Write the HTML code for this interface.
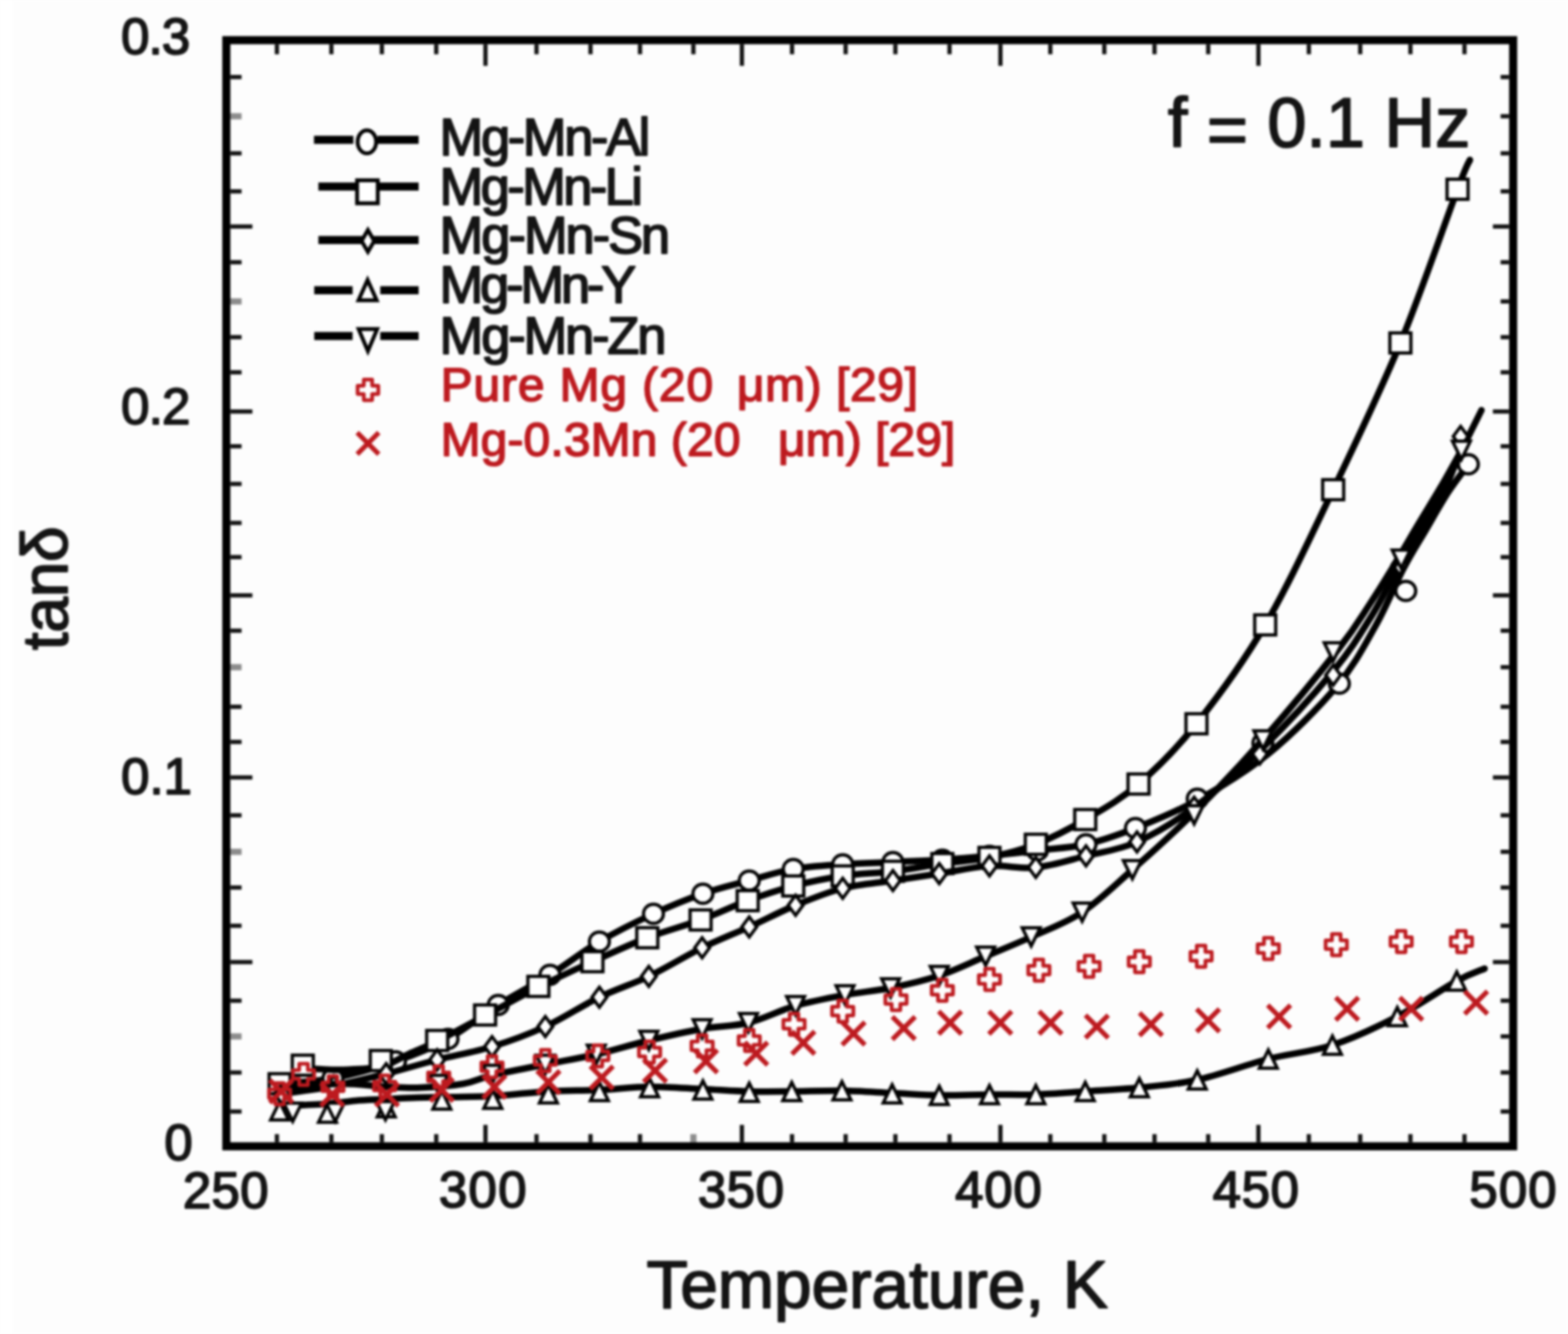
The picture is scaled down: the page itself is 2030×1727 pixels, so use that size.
<!DOCTYPE html>
<html><head><meta charset="utf-8"><title>tan&#948; vs temperature</title>
<style>
html,body{margin:0;padding:0;background:#fdfdfd;}
body{width:2030px;height:1727px;overflow:hidden;}
svg{display:block;font-family:"Liberation Sans",Arial,Helvetica,sans-serif;}
text{stroke:#141414;stroke-width:2.2px;stroke-linejoin:round;}
.red text{stroke:#bd1a1f;stroke-width:2px;}
.ln{fill:none;stroke:#000;stroke-width:8.5;stroke-linecap:round;stroke-linejoin:round;}
.lg{fill:none;stroke:#000;stroke-width:10.5;stroke-linecap:butt;}
.mk{fill:#fff;stroke:#000;stroke-width:4.2;stroke-linejoin:miter;}
.lm{stroke-width:5px;}
.rc{fill:none;stroke:#bd1a1f;stroke-width:4.8;stroke-linejoin:round;}
.rx{fill:none;stroke:#bd1a1f;stroke-width:6.2;stroke-linecap:butt;}
</style></head>
<body>
<svg xmlns="http://www.w3.org/2000/svg" width="2030" height="1727" viewBox="0 0 2030 1727">
<defs><filter id="soft" color-interpolation-filters="sRGB" filterUnits="userSpaceOnUse" x="0" y="0" width="2030" height="1727"><feGaussianBlur stdDeviation="1.6"/></filter></defs>
<g filter="url(#soft)">
<rect x="0" y="0" width="2030" height="1727" fill="#fdfdfd"/>
<rect x="0" y="0" width="17" height="1727" fill="#ffffff"/>
<path class="ln" d="M362,1403C373.5,1401.83 406,1400.83 431,1396C456,1391.17 487.17,1382.5 512,1374C536.83,1365.5 557.83,1357.17 580,1345C602.17,1332.83 623,1314.83 645,1301C667,1287.17 690.17,1275.67 712,1262C733.83,1248.33 753.67,1232.17 776,1219C798.33,1205.83 823.67,1193.33 846,1183C868.33,1172.67 889.33,1164.17 910,1157C930.67,1149.83 950.5,1145.33 970,1140C989.5,1134.67 1006.83,1128.5 1027,1125C1047.17,1121.5 1069.5,1120.5 1091,1119C1112.5,1117.5 1134.5,1117 1156,1116C1177.5,1115 1199.17,1114.33 1220,1113C1240.83,1111.67 1260.5,1110 1281,1108C1301.5,1106 1322.17,1103.5 1343,1101C1363.83,1098.5 1384.83,1097.83 1406,1093C1427.17,1088.17 1446,1081.5 1470,1072C1494,1062.5 1521.33,1052 1550,1036C1578.67,1020 1611.83,1000.67 1642,976C1672.17,951.33 1707.83,915.67 1731,888C1754.17,860.33 1766.67,835.33 1781,810C1795.33,784.67 1806.17,756.67 1817,736C1827.83,715.33 1836.33,702.5 1846,686C1855.67,669.5 1865.67,651.33 1875,637C1884.33,622.67 1897.5,606.17 1902,600"/>
<g class="mk"><ellipse cx="362" cy="1403" rx="12.9" ry="12.4"/><ellipse cx="431" cy="1396" rx="12.9" ry="12.4"/><ellipse cx="512" cy="1374" rx="12.9" ry="12.4"/><ellipse cx="580" cy="1345" rx="12.9" ry="12.4"/><ellipse cx="645" cy="1301" rx="12.9" ry="12.4"/><ellipse cx="712" cy="1262" rx="12.9" ry="12.4"/><ellipse cx="776" cy="1219" rx="12.9" ry="12.4"/><ellipse cx="846" cy="1183" rx="12.9" ry="12.4"/><ellipse cx="910" cy="1157" rx="12.9" ry="12.4"/><ellipse cx="970" cy="1140" rx="12.9" ry="12.4"/><ellipse cx="1027" cy="1125" rx="12.9" ry="12.4"/><ellipse cx="1091" cy="1119" rx="12.9" ry="12.4"/><ellipse cx="1156" cy="1116" rx="12.9" ry="12.4"/><ellipse cx="1220" cy="1113" rx="12.9" ry="12.4"/><ellipse cx="1281" cy="1108" rx="12.9" ry="12.4"/><ellipse cx="1343" cy="1101" rx="12.9" ry="12.4"/><ellipse cx="1406" cy="1093" rx="12.9" ry="12.4"/><ellipse cx="1470" cy="1072" rx="12.9" ry="12.4"/><ellipse cx="1550" cy="1034" rx="12.9" ry="12.4"/><ellipse cx="1635" cy="962" rx="12.9" ry="12.4"/><ellipse cx="1734" cy="885" rx="12.9" ry="12.4"/><ellipse cx="1820" cy="765" rx="12.9" ry="12.4"/><ellipse cx="1901" cy="601" rx="12.9" ry="12.4"/></g>
<path class="ln" d="M362,1404C367,1400.83 379,1388.17 392,1385C405,1381.83 423.17,1385.67 440,1385C456.83,1384.33 478,1384.5 493,1381C508,1377.5 517.83,1369.5 530,1364C542.17,1358.5 549.67,1356.17 566,1348C582.33,1339.83 606.17,1326.67 628,1315C649.83,1303.33 673.83,1289.67 697,1278C720.17,1266.33 743.5,1255.67 767,1245C790.5,1234.33 814.67,1223 838,1214C861.33,1205 885.33,1199 907,1191C928.67,1183 948,1173.33 968,1166C988,1158.67 1006.5,1152.33 1027,1147C1047.5,1141.67 1069.5,1137.17 1091,1134C1112.5,1130.83 1134.5,1130.67 1156,1128C1177.5,1125.33 1199.17,1121 1220,1118C1240.83,1115 1260.83,1114.17 1281,1110C1301.17,1105.83 1320.33,1101.17 1341,1093C1361.67,1084.83 1382.83,1074 1405,1061C1427.17,1048 1450,1035.67 1474,1015C1498,994.33 1521.67,971.33 1549,937C1576.33,902.67 1608.5,859.5 1638,809C1667.5,758.5 1696.83,694.83 1726,634C1755.17,573.17 1786.17,508.83 1813,444C1839.83,379.17 1872,284.5 1887,245C1902,205.5 1900.33,213.33 1903,207"/>
<g class="mk"><rect x="348.4" y="1390" width="27.2" height="26"/><rect x="378.4" y="1366" width="27.2" height="26"/><rect x="479.4" y="1360" width="27.2" height="26"/><rect x="552.4" y="1334" width="27.2" height="26"/><rect x="614.4" y="1301" width="27.2" height="26"/><rect x="683.4" y="1264" width="27.2" height="26"/><rect x="753.4" y="1232" width="27.2" height="26"/><rect x="824.4" y="1201" width="27.2" height="26"/><rect x="893.4" y="1178" width="27.2" height="26"/><rect x="954.4" y="1153" width="27.2" height="26"/><rect x="1013.4" y="1134" width="27.2" height="26"/><rect x="1077.4" y="1121" width="27.2" height="26"/><rect x="1142.4" y="1115" width="27.2" height="26"/><rect x="1206.4" y="1105" width="27.2" height="26"/><rect x="1267.4" y="1097" width="27.2" height="26"/><rect x="1327.4" y="1080" width="27.2" height="26"/><rect x="1391.4" y="1048" width="27.2" height="26"/><rect x="1460.4" y="1002" width="27.2" height="26"/><rect x="1535.4" y="924" width="27.2" height="26"/><rect x="1624.4" y="796" width="27.2" height="26"/><rect x="1712.4" y="621" width="27.2" height="26"/><rect x="1799.4" y="431" width="27.2" height="26"/><rect x="1873.4" y="232" width="27.2" height="26"/></g>
<path class="ln" d="M365,1416C376.17,1414.33 409.5,1410.33 432,1406C454.5,1401.67 477.67,1395.67 500,1390C522.33,1384.33 543.17,1377.83 566,1372C588.83,1366.17 613.67,1362.17 637,1355C660.33,1347.83 682.83,1339.67 706,1329C729.17,1318.33 753.67,1301.83 776,1291C798.33,1280.17 817.83,1274.67 840,1264C862.17,1253.33 887.33,1237.67 909,1227C930.67,1216.33 949.83,1209.17 970,1200C990.17,1190.83 1009.83,1180.33 1030,1172C1050.17,1163.67 1070,1155.33 1091,1150C1112,1144.67 1135.17,1143.17 1156,1140C1176.83,1136.83 1195.17,1134.17 1216,1131C1236.83,1127.83 1260.17,1122.33 1281,1121C1301.83,1119.67 1320.17,1125.17 1341,1123C1361.83,1120.83 1384.17,1113.5 1406,1108C1427.83,1102.5 1448.33,1100.67 1472,1090C1495.67,1079.33 1521.17,1064 1548,1044C1574.83,1024 1603.33,999.17 1633,970C1662.67,940.83 1702.17,897.83 1726,869C1749.83,840.17 1761.67,820 1776,797C1790.33,774 1801.17,750.17 1812,731C1822.83,711.83 1831.33,698.17 1841,682C1850.67,665.83 1862,649.33 1870,634C1878,618.67 1881,607.17 1889,590C1897,572.83 1913.17,540.83 1918,531"/>
<g class="mk"><path d="M365,1403L374.6,1416L365,1429L355.4,1416Z"/><path d="M432,1393L441.6,1406L432,1419L422.4,1406Z"/><path d="M500,1377L509.6,1390L500,1403L490.4,1390Z"/><path d="M566,1359L575.6,1372L566,1385L556.4,1372Z"/><path d="M637,1342L646.6,1355L637,1368L627.4,1355Z"/><path d="M706,1316L715.6,1329L706,1342L696.4,1329Z"/><path d="M776,1278L785.6,1291L776,1304L766.4,1291Z"/><path d="M840,1251L849.6,1264L840,1277L830.4,1264Z"/><path d="M909,1214L918.6,1227L909,1240L899.4,1227Z"/><path d="M970,1187L979.6,1200L970,1213L960.4,1200Z"/><path d="M1030,1159L1039.6,1172L1030,1185L1020.4,1172Z"/><path d="M1091,1137L1100.6,1150L1091,1163L1081.4,1150Z"/><path d="M1156,1127L1165.6,1140L1156,1153L1146.4,1140Z"/><path d="M1216,1118L1225.6,1131L1216,1144L1206.4,1131Z"/><path d="M1281,1108L1290.6,1121L1281,1134L1271.4,1121Z"/><path d="M1341,1110L1350.6,1123L1341,1136L1331.4,1123Z"/><path d="M1406,1095L1415.6,1108L1406,1121L1396.4,1108Z"/><path d="M1472,1077L1481.6,1090L1472,1103L1462.4,1090Z"/><path d="M1546,1032L1555.6,1045L1546,1058L1536.4,1045Z"/><path d="M1631,963L1640.6,976L1631,989L1621.4,976Z"/><path d="M1726,861L1735.6,874L1726,887L1716.4,874Z"/><path d="M1812,718L1821.6,731L1812,744L1802.4,731Z"/><path d="M1891,552L1900.6,565L1891,578L1881.4,565Z"/></g>
<path class="ln" d="M362,1432C372.33,1431.5 407.67,1430.17 424,1429C440.33,1427.83 447.33,1426 460,1425C472.67,1424 486.67,1423.67 500,1423C513.33,1422.33 523.33,1421.5 540,1421C556.67,1420.5 583.67,1420.33 600,1420C616.33,1419.67 619.67,1420.17 638,1419C656.33,1417.83 687,1414.33 710,1413C733,1411.67 754.17,1412 776,1411C797.83,1410 818.67,1407.17 841,1407C863.33,1406.83 888.5,1409 910,1410C931.5,1411 950.83,1412.5 970,1413C989.17,1413.5 1005,1413.17 1025,1413C1045,1412.83 1068.33,1411.67 1090,1412C1111.67,1412.33 1134,1414 1155,1415C1176,1416 1195,1417.67 1216,1418C1237,1418.33 1260.17,1417.17 1281,1417C1301.83,1416.83 1320.33,1417.67 1341,1417C1361.67,1416.33 1382.67,1414.5 1405,1413C1427.33,1411.5 1450.83,1410.5 1475,1408C1499.17,1405.5 1522.17,1404.17 1550,1398C1577.83,1391.83 1612.83,1378.5 1642,1371C1671.17,1363.5 1697.17,1362.17 1725,1353C1752.83,1343.83 1782.17,1329.83 1809,1316C1835.83,1302.17 1867.17,1280.33 1886,1270C1904.83,1259.67 1916,1256.67 1922,1254"/>
<g class="mk"><path d="M362,1426.2L373.6,1449.8L350.4,1449.8Z"/><path d="M424,1429.2L435.6,1452.8L412.4,1452.8Z"/><path d="M500,1422.2L511.6,1445.8L488.4,1445.8Z"/><path d="M572,1412.2L583.6,1435.8L560.4,1435.8Z"/><path d="M638,1411.2L649.6,1434.8L626.4,1434.8Z"/><path d="M710,1404.2L721.6,1427.8L698.4,1427.8Z"/><path d="M776,1401.2L787.6,1424.8L764.4,1424.8Z"/><path d="M841,1396.2L852.6,1419.8L829.4,1419.8Z"/><path d="M910,1399.2L921.6,1422.8L898.4,1422.8Z"/><path d="M970,1402.2L981.6,1425.8L958.4,1425.8Z"/><path d="M1025,1401.2L1036.6,1424.8L1013.4,1424.8Z"/><path d="M1090,1400.2L1101.6,1423.8L1078.4,1423.8Z"/><path d="M1155,1404.2L1166.6,1427.8L1143.4,1427.8Z"/><path d="M1216,1406.2L1227.6,1429.8L1204.4,1429.8Z"/><path d="M1281,1405.2L1292.6,1428.8L1269.4,1428.8Z"/><path d="M1341,1405.2L1352.6,1428.8L1329.4,1428.8Z"/><path d="M1405,1401.2L1416.6,1424.8L1393.4,1424.8Z"/><path d="M1475,1396.2L1486.6,1419.8L1463.4,1419.8Z"/><path d="M1550,1386.2L1561.6,1409.8L1538.4,1409.8Z"/><path d="M1642,1359.2L1653.6,1382.8L1630.4,1382.8Z"/><path d="M1725,1341.2L1736.6,1364.8L1713.4,1364.8Z"/><path d="M1809,1304.2L1820.6,1327.8L1797.4,1327.8Z"/><path d="M1886,1258.2L1897.6,1281.8L1874.4,1281.8Z"/></g>
<path class="ln" d="M362,1410C375,1408.83 417,1403.5 440,1403C463,1402.5 482.5,1406.17 500,1407C517.5,1407.83 528.33,1408.67 545,1408C561.67,1407.33 584.67,1405.67 600,1403C615.33,1400.33 619.33,1396.17 637,1392C654.67,1387.83 683.5,1382.5 706,1378C728.5,1373.5 749.67,1370.17 772,1365C794.33,1359.83 817.17,1352.5 840,1347C862.83,1341.5 887.5,1335.83 909,1332C930.5,1328.17 948.83,1329 969,1324C989.17,1319 1009.17,1308 1030,1302C1050.83,1296 1073.5,1291.83 1094,1288C1114.5,1284.17 1132.67,1283.17 1153,1279C1173.33,1274.83 1195.5,1269.83 1216,1263C1236.5,1256.17 1256.17,1246.33 1276,1238C1295.83,1229.67 1314.17,1222.5 1335,1213C1355.83,1203.5 1379.17,1195.5 1401,1181C1422.83,1166.5 1441.83,1147.5 1466,1126C1490.17,1104.5 1517.33,1080.67 1546,1052C1574.67,1023.33 1606.83,989.33 1638,954C1669.17,918.67 1710.33,868.83 1733,840C1755.67,811.17 1761.67,799.67 1774,781C1786.33,762.33 1796.67,745 1807,728C1817.33,711 1826.33,695.17 1836,679C1845.67,662.83 1855.67,647 1865,631C1874.33,615 1887.5,591 1892,583"/>
<g class="mk"><path d="M367.4,1428.2L390.6,1428.2L379,1451.8Z"/><path d="M422.4,1428.2L445.6,1428.2L434,1451.8Z"/><path d="M487.4,1426.2L510.6,1426.2L499,1449.8Z"/><path d="M556.4,1392.2L579.6,1392.2L568,1415.8Z"/><path d="M625.4,1379.2L648.6,1379.2L637,1402.8Z"/><path d="M694.4,1366.2L717.6,1366.2L706,1389.8Z"/><path d="M760.4,1353.2L783.6,1353.2L772,1376.8Z"/><path d="M828.4,1335.2L851.6,1335.2L840,1358.8Z"/><path d="M897.4,1320.2L920.6,1320.2L909,1343.8Z"/><path d="M957.4,1312.2L980.6,1312.2L969,1335.8Z"/><path d="M1018.4,1290.2L1041.6,1290.2L1030,1313.8Z"/><path d="M1082.4,1276.2L1105.6,1276.2L1094,1299.8Z"/><path d="M1141.4,1267.2L1164.6,1267.2L1153,1290.8Z"/><path d="M1204.4,1251.2L1227.6,1251.2L1216,1274.8Z"/><path d="M1264.4,1226.2L1287.6,1226.2L1276,1249.8Z"/><path d="M1323.4,1201.2L1346.6,1201.2L1335,1224.8Z"/><path d="M1389.4,1169.2L1412.6,1169.2L1401,1192.8Z"/><path d="M1454.4,1114.2L1477.6,1114.2L1466,1137.8Z"/><path d="M1534.4,1043.2L1557.6,1043.2L1546,1066.8Z"/><path d="M1623.4,946.2L1646.6,946.2L1635,969.8Z"/><path d="M1714.4,832.2L1737.6,832.2L1726,855.8Z"/><path d="M1802.4,712.2L1825.6,712.2L1814,735.8Z"/><path d="M1880.4,571.2L1903.6,571.2L1892,594.8Z"/></g>
<g class="rc"><path d="M356.4,1402.2L367.6,1402.2L367.6,1410.4L375.8,1410.4L375.8,1421.6L367.6,1421.6L367.6,1429.8L356.4,1429.8L356.4,1421.6L348.2,1421.6L348.2,1410.4L356.4,1410.4Z"/><path d="M387.4,1377.2L398.6,1377.2L398.6,1385.4L406.8,1385.4L406.8,1396.6L398.6,1396.6L398.6,1404.8L387.4,1404.8L387.4,1396.6L379.2,1396.6L379.2,1385.4L387.4,1385.4Z"/><path d="M425.4,1393.2L436.6,1393.2L436.6,1401.4L444.8,1401.4L444.8,1412.6L436.6,1412.6L436.6,1420.8L425.4,1420.8L425.4,1412.6L417.2,1412.6L417.2,1401.4L425.4,1401.4Z"/><path d="M492.4,1392.2L503.6,1392.2L503.6,1400.4L511.8,1400.4L511.8,1411.6L503.6,1411.6L503.6,1419.8L492.4,1419.8L492.4,1411.6L484.2,1411.6L484.2,1400.4L492.4,1400.4Z"/><path d="M562.4,1380.2L573.6,1380.2L573.6,1388.4L581.8,1388.4L581.8,1399.6L573.6,1399.6L573.6,1407.8L562.4,1407.8L562.4,1399.6L554.2,1399.6L554.2,1388.4L562.4,1388.4Z"/><path d="M631.4,1367.2L642.6,1367.2L642.6,1375.4L650.8,1375.4L650.8,1386.6L642.6,1386.6L642.6,1394.8L631.4,1394.8L631.4,1386.6L623.2,1386.6L623.2,1375.4L631.4,1375.4Z"/><path d="M700.4,1359.2L711.6,1359.2L711.6,1367.4L719.8,1367.4L719.8,1378.6L711.6,1378.6L711.6,1386.8L700.4,1386.8L700.4,1378.6L692.2,1378.6L692.2,1367.4L700.4,1367.4Z"/><path d="M768.4,1353.2L779.6,1353.2L779.6,1361.4L787.8,1361.4L787.8,1372.6L779.6,1372.6L779.6,1380.8L768.4,1380.8L768.4,1372.6L760.2,1372.6L760.2,1361.4L768.4,1361.4Z"/><path d="M835.4,1348.2L846.6,1348.2L846.6,1356.4L854.8,1356.4L854.8,1367.6L846.6,1367.6L846.6,1375.8L835.4,1375.8L835.4,1367.6L827.2,1367.6L827.2,1356.4L835.4,1356.4Z"/><path d="M903.4,1340.2L914.6,1340.2L914.6,1348.4L922.8,1348.4L922.8,1359.6L914.6,1359.6L914.6,1367.8L903.4,1367.8L903.4,1359.6L895.2,1359.6L895.2,1348.4L903.4,1348.4Z"/><path d="M964.4,1333.2L975.6,1333.2L975.6,1341.4L983.8,1341.4L983.8,1352.6L975.6,1352.6L975.6,1360.8L964.4,1360.8L964.4,1352.6L956.2,1352.6L956.2,1341.4L964.4,1341.4Z"/><path d="M1022.4,1312.2L1033.6,1312.2L1033.6,1320.4L1041.8,1320.4L1041.8,1331.6L1033.6,1331.6L1033.6,1339.8L1022.4,1339.8L1022.4,1331.6L1014.2,1331.6L1014.2,1320.4L1022.4,1320.4Z"/><path d="M1085.4,1295.2L1096.6,1295.2L1096.6,1303.4L1104.8,1303.4L1104.8,1314.6L1096.6,1314.6L1096.6,1322.8L1085.4,1322.8L1085.4,1314.6L1077.2,1314.6L1077.2,1303.4L1085.4,1303.4Z"/><path d="M1154.4,1280.2L1165.6,1280.2L1165.6,1288.4L1173.8,1288.4L1173.8,1299.6L1165.6,1299.6L1165.6,1307.8L1154.4,1307.8L1154.4,1299.6L1146.2,1299.6L1146.2,1288.4L1154.4,1288.4Z"/><path d="M1214.4,1268.2L1225.6,1268.2L1225.6,1276.4L1233.8,1276.4L1233.8,1287.6L1225.6,1287.6L1225.6,1295.8L1214.4,1295.8L1214.4,1287.6L1206.2,1287.6L1206.2,1276.4L1214.4,1276.4Z"/><path d="M1275.4,1254.2L1286.6,1254.2L1286.6,1262.4L1294.8,1262.4L1294.8,1273.6L1286.6,1273.6L1286.6,1281.8L1275.4,1281.8L1275.4,1273.6L1267.2,1273.6L1267.2,1262.4L1275.4,1262.4Z"/><path d="M1339.4,1242.2L1350.6,1242.2L1350.6,1250.4L1358.8,1250.4L1358.8,1261.6L1350.6,1261.6L1350.6,1269.8L1339.4,1269.8L1339.4,1261.6L1331.2,1261.6L1331.2,1250.4L1339.4,1250.4Z"/><path d="M1404.4,1237.2L1415.6,1237.2L1415.6,1245.4L1423.8,1245.4L1423.8,1256.6L1415.6,1256.6L1415.6,1264.8L1404.4,1264.8L1404.4,1256.6L1396.2,1256.6L1396.2,1245.4L1404.4,1245.4Z"/><path d="M1469.4,1231.2L1480.6,1231.2L1480.6,1239.4L1488.8,1239.4L1488.8,1250.6L1480.6,1250.6L1480.6,1258.8L1469.4,1258.8L1469.4,1250.6L1461.2,1250.6L1461.2,1239.4L1469.4,1239.4Z"/><path d="M1549.4,1224.2L1560.6,1224.2L1560.6,1232.4L1568.8,1232.4L1568.8,1243.6L1560.6,1243.6L1560.6,1251.8L1549.4,1251.8L1549.4,1243.6L1541.2,1243.6L1541.2,1232.4L1549.4,1232.4Z"/><path d="M1636.4,1214.2L1647.6,1214.2L1647.6,1222.4L1655.8,1222.4L1655.8,1233.6L1647.6,1233.6L1647.6,1241.8L1636.4,1241.8L1636.4,1233.6L1628.2,1233.6L1628.2,1222.4L1636.4,1222.4Z"/><path d="M1724.4,1209.2L1735.6,1209.2L1735.6,1217.4L1743.8,1217.4L1743.8,1228.6L1735.6,1228.6L1735.6,1236.8L1724.4,1236.8L1724.4,1228.6L1716.2,1228.6L1716.2,1217.4L1724.4,1217.4Z"/><path d="M1808.4,1205.2L1819.6,1205.2L1819.6,1213.4L1827.8,1213.4L1827.8,1224.6L1819.6,1224.6L1819.6,1232.8L1808.4,1232.8L1808.4,1224.6L1800.2,1224.6L1800.2,1213.4L1808.4,1213.4Z"/><path d="M1886.4,1205.2L1897.6,1205.2L1897.6,1213.4L1905.8,1213.4L1905.8,1224.6L1897.6,1224.6L1897.6,1232.8L1886.4,1232.8L1886.4,1224.6L1878.2,1224.6L1878.2,1213.4L1886.4,1213.4Z"/></g>
<g class="rx"><path d="M349.2,1398.2L378.8,1427.8M378.8,1398.2L349.2,1427.8"/><path d="M415.2,1402.2L444.8,1431.8M444.8,1402.2L415.2,1431.8"/><path d="M486.2,1402.2L515.8,1431.8M515.8,1402.2L486.2,1431.8"/><path d="M557.2,1396.2L586.8,1425.8M586.8,1396.2L557.2,1425.8"/><path d="M625.2,1392.2L654.8,1421.8M654.8,1392.2L625.2,1421.8"/><path d="M695.2,1386.2L724.8,1415.8M724.8,1386.2L695.2,1415.8"/><path d="M764.2,1380.2L793.8,1409.8M793.8,1380.2L764.2,1409.8"/><path d="M833.2,1371.2L862.8,1400.8M862.8,1371.2L833.2,1400.8"/><path d="M899.2,1359.2L928.8,1388.8M928.8,1359.2L899.2,1388.8"/><path d="M964.2,1349.2L993.8,1378.8M993.8,1349.2L964.2,1378.8"/><path d="M1025.2,1335.2L1054.8,1364.8M1054.8,1335.2L1025.2,1364.8"/><path d="M1090.2,1323.2L1119.8,1352.8M1119.8,1323.2L1090.2,1352.8"/><path d="M1155.2,1316.2L1184.8,1345.8M1184.8,1316.2L1155.2,1345.8"/><path d="M1215.2,1309.2L1244.8,1338.8M1244.8,1309.2L1215.2,1338.8"/><path d="M1280.2,1309.2L1309.8,1338.8M1309.8,1309.2L1280.2,1338.8"/><path d="M1345.2,1309.2L1374.8,1338.8M1374.8,1309.2L1345.2,1338.8"/><path d="M1405.2,1314.2L1434.8,1343.8M1434.8,1314.2L1405.2,1343.8"/><path d="M1475.2,1311.2L1504.8,1340.8M1504.8,1311.2L1475.2,1340.8"/><path d="M1549.2,1306.2L1578.8,1335.8M1578.8,1306.2L1549.2,1335.8"/><path d="M1641.2,1301.2L1670.8,1330.8M1670.8,1301.2L1641.2,1330.8"/><path d="M1729.2,1291.2L1758.8,1320.8M1758.8,1291.2L1729.2,1320.8"/><path d="M1812.2,1291.2L1841.8,1320.8M1841.8,1291.2L1812.2,1320.8"/><path d="M1896.2,1283.2L1925.8,1312.8M1925.8,1283.2L1896.2,1312.8"/></g>

<path d="M358.5,1478.75V1468.25M358.5,57.25V70.25M429,1478.75V1468.25M429,57.25V70.25M494.4,1478.75V1468.25M494.4,57.25V70.25M564.8,1478.75V1468.25M564.8,57.25V70.25M628.5,1478.75V1456.25M628.5,57.25V85.25M694.6,1478.75V1468.25M694.6,57.25V70.25M764.5,1478.75V1468.25M764.5,57.25V70.25M828.6,1478.75V1468.25M828.6,57.25V70.25M897.7,57.25V70.25M960.5,1478.75V1456.25M960.5,57.25V85.25M1025.4,1478.75V1468.25M1025.4,57.25V70.25M1094.8,1478.75V1468.25M1094.8,57.25V70.25M1159.2,1478.75V1468.25M1159.2,57.25V70.25M1229.3,1478.75V1468.25M1229.3,57.25V70.25M1295.2,1478.75V1456.25M1295.2,57.25V85.25M1359.8,1478.75V1468.25M1359.8,57.25V70.25M1429.7,1478.75V1468.25M1429.7,57.25V70.25M1494.7,1478.75V1468.25M1494.7,57.25V70.25M1564.2,1478.75V1468.25M1564.2,57.25V70.25M1629.2,1478.75V1456.25M1629.2,57.25V85.25M1694.5,1478.75V1468.25M1694.5,57.25V70.25M1761,1478.75V1468.25M1761,57.25V70.25M1826,1478.75V1468.25M1826,57.25V70.25M1896,1478.75V1468.25M1896,57.25V70.25M298.25,1439H312.75M1953.75,1439H1942.75M298.25,1388.5H312.75M1953.75,1388.5H1942.75M1953.75,1341.8H1942.75M298.25,1295.6H312.75M1953.75,1295.6H1942.75M298.25,1245.5H326.75M1953.75,1245.5H1932.75M298.25,1198.5H312.75M1953.75,1198.5H1942.75M298.25,1149H312.75M1953.75,1149H1942.75M1953.75,1102.8H1942.75M298.25,1055.6H312.75M1953.75,1055.6H1942.75M298.25,1006.4H326.75M1953.75,1006.4H1932.75M298.25,960.5H312.75M1953.75,960.5H1942.75M298.25,915.1H312.75M1953.75,915.1H1942.75M1953.75,863.7H1942.75M298.25,816.6H312.75M1953.75,816.6H1942.75M298.25,770.8H326.75M1953.75,770.8H1932.75M298.25,721.3H312.75M1953.75,721.3H1942.75M298.25,676.9H312.75M1953.75,676.9H1942.75M298.25,626.4H312.75M1953.75,626.4H1942.75M298.25,577.8H312.75M1953.75,577.8H1942.75M298.25,532.8H326.75M1953.75,532.8H1932.75M298.25,482H312.75M1953.75,482H1942.75M298.25,436.6H312.75M1953.75,436.6H1942.75M1953.75,390.3H1942.75M298.25,339.4H312.75M1953.75,339.4H1942.75M298.25,293.2H326.75M1953.75,293.2H1932.75M298.25,247.7H312.75M1953.75,247.7H1942.75M298.25,198.5H312.75M1953.75,198.5H1942.75M1953.75,150.5H1942.75M298.25,99.8H312.75M1953.75,99.8H1942.75" stroke="#111" stroke-width="5.5" fill="none"/>
<path d="M897.7,1478.75V1468.25M298.25,1341.8H312.75M298.25,1102.8H312.75M298.25,863.7H312.75M298.25,390.3H312.75M298.25,150.5H312.75" stroke="#8c8c8c" stroke-width="8" fill="none"/>
<rect x="293" y="52" width="1666" height="1432" fill="none" stroke="#000" stroke-width="10.5"/>
<g fill="#141414"><text x="156.73" y="69.97" font-size="66" style="letter-spacing:-1.08px">0.3</text><text x="156.73" y="548.57" font-size="66" style="letter-spacing:-1.03px">0.2</text><text x="156.73" y="1027.87" font-size="66">0.1</text><text x="212.83" y="1502.47" font-size="66">0</text><text x="236.8" y="1563.67" font-size="66" style="letter-spacing:0.34px">250</text><text x="568.19" y="1563.27" font-size="66" style="letter-spacing:1.65px">300</text><text x="903.39" y="1563.37" font-size="66" style="letter-spacing:0.75px">350</text><text x="1236.48" y="1563.27" font-size="66" style="letter-spacing:1px">400</text><text x="1570.08" y="1562.97" font-size="66" style="letter-spacing:0.8px">450</text><text x="1902.36" y="1563.27" font-size="66" style="letter-spacing:1.36px">500</text></g>
<g fill="#141414"><text x="836.98" y="1692.5" font-size="87.5" style="letter-spacing:-0.07px">Temperature, K</text></g>
<text transform="translate(87,840.4) rotate(-90)" x="-1.24" y="0" font-size="83" fill="#141414" style="letter-spacing:-0.4px">tanδ</text>
<g fill="#141414"><text x="1512.03" y="190.4" font-size="91" style="letter-spacing:-0.06px">f <tspan dy="8.5">=</tspan><tspan dy="-8.5"> 0.1 Hz</tspan></text></g>
<g fill="#141414"><path class="lg" d="M406.5,181H457.5M488.8,181H542"/><g class="mk lm"><ellipse cx="475" cy="183.7" rx="12" ry="14.9"/></g><text x="569.12" y="200.5" font-size="68" style="letter-spacing:-3.12px">Mg-Mn-Al</text><path class="lg" d="M412.2,241.5H542"/><g class="mk lm"><rect x="462.3" y="233.4" width="26.8" height="29.8"/></g><text x="569.12" y="264.8" font-size="68" style="letter-spacing:-3.42px">Mg-Mn-Li</text><path class="lg" d="M412.2,310.8H542"/><g class="mk lm"><path d="M476.3,297.7L484.5,311.9L476.3,326.1L468.1,311.9Z"/></g><text x="569.12" y="328.3" font-size="68" style="letter-spacing:-2.69px">Mg-Mn-Sn</text><path class="lg" d="M406.8,375.7H456.5M492.3,375.7H542"/><g class="mk lm"><path d="M475.9,362.4L487.7,388.8L464.1,388.8Z"/></g><text x="569.12" y="392" font-size="68" style="letter-spacing:-4.18px">Mg-Mn-Y</text><path class="lg" d="M406.8,435H456.5M492.3,435H542"/><g class="mk lm"><path d="M464.3,426.1L488.3,426.1L476.3,454.5Z"/></g><text x="569.12" y="457.6" font-size="68" style="letter-spacing:-2.84px">Mg-Mn-Zn</text><g class="rc"><path d="M471,491.3L481.8,491.3L481.8,499.3L489.8,499.3L489.8,510.1L481.8,510.1L481.8,518.1L471,518.1L471,510.1L463,510.1L463,499.3L471,499.3Z"/></g><g class="rx"><path d="M462.4,560L490.4,588M490.4,560L462.4,588"/></g><g class="red" fill="#bd1a1f"><text x="570.42" y="519.3" font-size="62" style="letter-spacing:1.17px">Pure Mg (20</text><text x="954.05" y="519.3" font-size="62" style="letter-spacing:0.81px">μm) [29]</text><text x="570.42" y="589.5" font-size="62" style="letter-spacing:0.21px">Mg-0.3Mn (20</text><text x="1007.25" y="589.5" font-size="62" style="letter-spacing:0.13px">μm) [29]</text></g></g>
</g>
</svg>
</body></html>
